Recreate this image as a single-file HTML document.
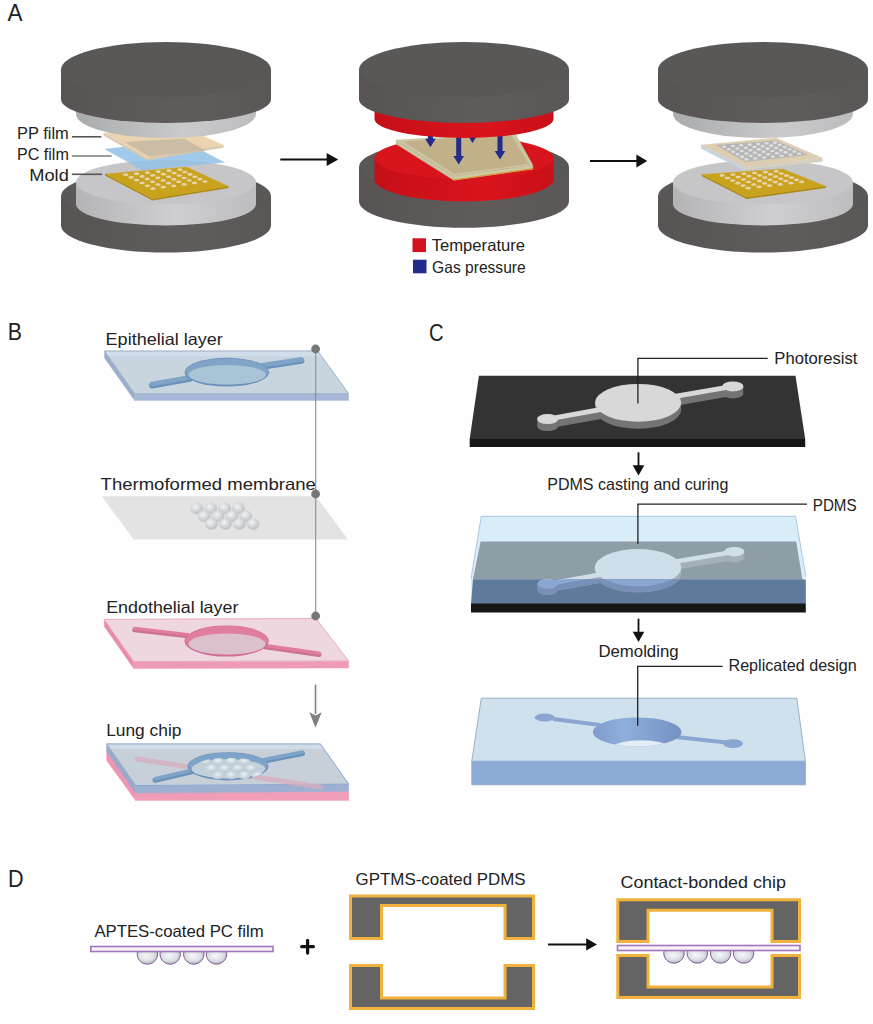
<!DOCTYPE html>
<html><head><meta charset="utf-8"><style>
html,body{margin:0;padding:0;background:#fff;}
svg{display:block;font-family:"Liberation Sans", sans-serif;}
</style></head><body>
<svg width="873" height="1024" viewBox="0 0 873 1024">
<rect width="873" height="1024" fill="#fefefe"/>
<defs>
<linearGradient id="gl" x1="0" x2="1" y1="0" y2="0">
 <stop offset="0" stop-color="#b4b4b6"/><stop offset="0.55" stop-color="#cfcfd1"/><stop offset="1" stop-color="#bdbdbf"/>
</linearGradient>
<linearGradient id="gd" x1="0" x2="1" y1="0" y2="0">
 <stop offset="0" stop-color="#575453"/><stop offset="0.6" stop-color="#605c5b"/><stop offset="1" stop-color="#5a5756"/>
</linearGradient>
<linearGradient id="gl2" x1="0" x2="1" y1="0" y2="0">
 <stop offset="0" stop-color="#a9abad"/><stop offset="0.6" stop-color="#cacacc"/><stop offset="1" stop-color="#bdbdbf"/>
</linearGradient>
<linearGradient id="gr" x1="0" x2="1" y1="0" y2="0">
 <stop offset="0" stop-color="#c40f17"/><stop offset="0.6" stop-color="#d9141c"/><stop offset="1" stop-color="#c81018"/>
</linearGradient>
<radialGradient id="dome" cx="0.45" cy="0.35" r="0.7">
 <stop offset="0" stop-color="#f6f8f8"/><stop offset="0.55" stop-color="#dcdfe6"/><stop offset="1" stop-color="#a9abbb"/>
</radialGradient>
<radialGradient id="bub" cx="0.4" cy="0.35" r="0.7">
 <stop offset="0" stop-color="#f2f4f5"/><stop offset="1" stop-color="#b7bcc0"/>
</radialGradient>
<radialGradient id="bub2" cx="0.45" cy="0.35" r="0.7">
 <stop offset="0" stop-color="#e9eff2"/><stop offset="1" stop-color="#b3c3cf"/>
</radialGradient>
<linearGradient id="chan" x1="0" x2="1" y1="0" y2="0">
 <stop offset="0" stop-color="#7f9dcc"/><stop offset="0.35" stop-color="#8eaedb"/><stop offset="1" stop-color="#7592c2"/>
</linearGradient>
</defs><text x="7.6" y="21.4" font-size="23.8" fill="#222" text-anchor="start" font-weight="normal" textLength="15.0" lengthAdjust="spacingAndGlyphs" >A</text><path d="M61,196 L61,225.5 A105,27 0 0 0 271,225.5 L271,196 Z" fill="url(#gd)"/><ellipse cx="166" cy="196" rx="105" ry="27" fill="#5a5856"/><path d="M76,182.2 L76,204 A90,21.5 0 0 0 256,204 L256,182.2 Z" fill="url(#gl)"/><ellipse cx="166" cy="182.2" rx="90" ry="22.2" fill="#c6c6c8"/><polygon points="105.40,173.90 152.60,198.70 152.60,200.20 105.40,175.40" fill="#a8860f" stroke="#a8860f" stroke-width="0.4" stroke-linejoin="round" /><polygon points="152.60,198.70 228.30,186.30 228.30,187.80 152.60,200.20" fill="#a8860f" stroke="#a8860f" stroke-width="0.4" stroke-linejoin="round" /><polygon points="105.40,173.90 186.60,167 228.30,186.30 152.60,198.70" fill="#c9a21e" stroke="#c9a21e" stroke-width="0.4" stroke-linejoin="round" /><ellipse cx="125.8" cy="174.7" rx="2.7" ry="1.35" fill="#e6d3ae"/><ellipse cx="131.2" cy="177.4" rx="2.7" ry="1.35" fill="#e6d3ae"/><ellipse cx="136.7" cy="180.2" rx="2.7" ry="1.35" fill="#e6d3ae"/><ellipse cx="142.1" cy="183.0" rx="2.7" ry="1.35" fill="#e6d3ae"/><ellipse cx="147.5" cy="185.8" rx="2.7" ry="1.35" fill="#e6d3ae"/><ellipse cx="153.0" cy="188.6" rx="2.7" ry="1.35" fill="#e6d3ae"/><ellipse cx="136.6" cy="173.7" rx="2.7" ry="1.35" fill="#e6d3ae"/><ellipse cx="142.0" cy="176.4" rx="2.7" ry="1.35" fill="#e6d3ae"/><ellipse cx="147.3" cy="179.1" rx="2.7" ry="1.35" fill="#e6d3ae"/><ellipse cx="152.7" cy="181.8" rx="2.7" ry="1.35" fill="#e6d3ae"/><ellipse cx="158.0" cy="184.5" rx="2.7" ry="1.35" fill="#e6d3ae"/><ellipse cx="163.4" cy="187.2" rx="2.7" ry="1.35" fill="#e6d3ae"/><ellipse cx="147.4" cy="172.7" rx="2.7" ry="1.35" fill="#e6d3ae"/><ellipse cx="152.7" cy="175.3" rx="2.7" ry="1.35" fill="#e6d3ae"/><ellipse cx="157.9" cy="177.9" rx="2.7" ry="1.35" fill="#e6d3ae"/><ellipse cx="163.2" cy="180.5" rx="2.7" ry="1.35" fill="#e6d3ae"/><ellipse cx="168.5" cy="183.2" rx="2.7" ry="1.35" fill="#e6d3ae"/><ellipse cx="173.7" cy="185.8" rx="2.7" ry="1.35" fill="#e6d3ae"/><ellipse cx="158.2" cy="171.7" rx="2.7" ry="1.35" fill="#e6d3ae"/><ellipse cx="163.4" cy="174.2" rx="2.7" ry="1.35" fill="#e6d3ae"/><ellipse cx="168.6" cy="176.8" rx="2.7" ry="1.35" fill="#e6d3ae"/><ellipse cx="173.8" cy="179.3" rx="2.7" ry="1.35" fill="#e6d3ae"/><ellipse cx="178.9" cy="181.8" rx="2.7" ry="1.35" fill="#e6d3ae"/><ellipse cx="184.1" cy="184.4" rx="2.7" ry="1.35" fill="#e6d3ae"/><ellipse cx="169.0" cy="170.7" rx="2.7" ry="1.35" fill="#e6d3ae"/><ellipse cx="174.1" cy="173.1" rx="2.7" ry="1.35" fill="#e6d3ae"/><ellipse cx="179.2" cy="175.6" rx="2.7" ry="1.35" fill="#e6d3ae"/><ellipse cx="184.3" cy="178.0" rx="2.7" ry="1.35" fill="#e6d3ae"/><ellipse cx="189.4" cy="180.5" rx="2.7" ry="1.35" fill="#e6d3ae"/><ellipse cx="194.5" cy="182.9" rx="2.7" ry="1.35" fill="#e6d3ae"/><ellipse cx="179.9" cy="169.7" rx="2.7" ry="1.35" fill="#e6d3ae"/><ellipse cx="184.9" cy="172.1" rx="2.7" ry="1.35" fill="#e6d3ae"/><ellipse cx="189.9" cy="174.4" rx="2.7" ry="1.35" fill="#e6d3ae"/><ellipse cx="194.9" cy="176.8" rx="2.7" ry="1.35" fill="#e6d3ae"/><ellipse cx="199.9" cy="179.1" rx="2.7" ry="1.35" fill="#e6d3ae"/><ellipse cx="204.9" cy="181.5" rx="2.7" ry="1.35" fill="#e6d3ae"/><polygon points="104.30,149 182,140 225,162.50 142,170" fill="#8fc0e6" fill-opacity="0.85"/><polygon points="103.80,133 147.10,157.70 147.10,160.20 103.80,135.50" fill="#d9c9b0" stroke="#d9c9b0" stroke-width="0.4" stroke-linejoin="round" /><polygon points="147.10,157.70 223.30,145 223.30,147.50 147.10,160.20" fill="#d9c9b0" stroke="#d9c9b0" stroke-width="0.4" stroke-linejoin="round" /><polygon points="103.80,133 180,126 223.30,145 147.10,157.70" fill="#ecd3b0" stroke="#ecd3b0" stroke-width="0.4" stroke-linejoin="round" /><polygon points="124.60,142 184,138.50 205.40,150.40 148.60,156.50" fill="#cbbda5" /><path d="M76,97 L76,114 A90,24 0 0 0 256,114 L256,97 Z" fill="url(#gl2)"/><path d="M61,69.5 L61,99.4 A105,23.5 0 0 0 271,99.4 L271,69.5 Z" fill="url(#gd)"/><ellipse cx="166" cy="69.5" rx="105" ry="27.5" fill="#5a5856"/><path d="M359,167 L359,201.3 A105,26.5 0 0 0 569,201.3 L569,167 Z" fill="url(#gd)"/><ellipse cx="464" cy="167" rx="105" ry="26.5" fill="#5a5856"/><path d="M374.5,158 L374.5,179.4 A89.5,22 0 0 0 553.5,179.4 L553.5,158 Z" fill="url(#gr)"/><ellipse cx="464" cy="158" rx="89.5" ry="21" fill="#d8151d"/><polygon points="396,140 453.80,176.30 453.80,180.30 396,144" fill="#c4c6a4" stroke="#c4c6a4" stroke-width="0.4" stroke-linejoin="round" /><polygon points="453.80,176.30 532.80,165 532.80,169 453.80,180.30" fill="#cfcaa6" stroke="#cfcaa6" stroke-width="0.4" stroke-linejoin="round" /><polygon points="396,140 515,133 532.80,165 453.80,176.30" fill="#c9c6a2" stroke="#c9c6a2" stroke-width="0.4" stroke-linejoin="round" /><polygon points="453.80,179.30 532.80,168 532.80,169.20 453.80,180.50" fill="#dc9a3c" /><polygon points="403.57,141.53 511.21,134.89 528.67,163.84 454.15,174.04" fill="#c2b088" /><rect x="427.9" y="136" width="5" height="4.300000000000011" fill="#232c88"/><polygon points="425.10,138.80 430.40,147.30 435.70,138.80" fill="#232c88" /><rect x="456.2" y="136" width="5" height="21.5" fill="#232c88"/><polygon points="453.40,156 458.70,164.50 464,156" fill="#232c88" /><rect x="470.0" y="136" width="5" height="0" fill="#232c88"/><polygon points="467.20,134.50 472.50,143 477.80,134.50" fill="#232c88" /><rect x="497.5" y="136" width="5" height="16.400000000000006" fill="#232c88"/><polygon points="494.70,150.90 500,159.40 505.30,150.90" fill="#232c88" /><path d="M374.5,97 L374.5,119 A89.5,19 0 0 0 553.5,119 L553.5,97 Z" fill="url(#gr)"/><path d="M359,69.5 L359,99.4 A105,23.5 0 0 0 569,99.4 L569,69.5 Z" fill="url(#gd)"/><ellipse cx="464" cy="69.5" rx="105" ry="27.5" fill="#5a5856"/><path d="M658,196 L658,225.5 A105,27 0 0 0 868,225.5 L868,196 Z" fill="url(#gd)"/><ellipse cx="763" cy="196" rx="105" ry="27" fill="#5a5856"/><path d="M673,182.2 L673,204 A90,21.5 0 0 0 853,204 L853,182.2 Z" fill="url(#gl)"/><ellipse cx="763" cy="182.2" rx="90" ry="22.2" fill="#c6c6c8"/><polygon points="702,174.60 746.70,197.30 746.70,198.80 702,176.10" fill="#a8860f" stroke="#a8860f" stroke-width="0.4" stroke-linejoin="round" /><polygon points="746.70,197.30 825.70,186.20 825.70,187.70 746.70,198.80" fill="#a8860f" stroke="#a8860f" stroke-width="0.4" stroke-linejoin="round" /><polygon points="702,174.60 782.80,169 825.70,186.20 746.70,197.30" fill="#c9a21e" stroke="#c9a21e" stroke-width="0.4" stroke-linejoin="round" /><ellipse cx="722.2" cy="175.4" rx="2.7" ry="1.35" fill="#e6d3ae"/><ellipse cx="727.4" cy="178.0" rx="2.7" ry="1.35" fill="#e6d3ae"/><ellipse cx="732.6" cy="180.5" rx="2.7" ry="1.35" fill="#e6d3ae"/><ellipse cx="737.8" cy="183.1" rx="2.7" ry="1.35" fill="#e6d3ae"/><ellipse cx="743.1" cy="185.6" rx="2.7" ry="1.35" fill="#e6d3ae"/><ellipse cx="748.3" cy="188.2" rx="2.7" ry="1.35" fill="#e6d3ae"/><ellipse cx="733.0" cy="174.6" rx="2.7" ry="1.35" fill="#e6d3ae"/><ellipse cx="738.2" cy="177.1" rx="2.7" ry="1.35" fill="#e6d3ae"/><ellipse cx="743.4" cy="179.5" rx="2.7" ry="1.35" fill="#e6d3ae"/><ellipse cx="748.6" cy="182.0" rx="2.7" ry="1.35" fill="#e6d3ae"/><ellipse cx="753.8" cy="184.5" rx="2.7" ry="1.35" fill="#e6d3ae"/><ellipse cx="759.0" cy="186.9" rx="2.7" ry="1.35" fill="#e6d3ae"/><ellipse cx="743.8" cy="173.8" rx="2.7" ry="1.35" fill="#e6d3ae"/><ellipse cx="748.9" cy="176.2" rx="2.7" ry="1.35" fill="#e6d3ae"/><ellipse cx="754.1" cy="178.5" rx="2.7" ry="1.35" fill="#e6d3ae"/><ellipse cx="759.3" cy="180.9" rx="2.7" ry="1.35" fill="#e6d3ae"/><ellipse cx="764.5" cy="183.3" rx="2.7" ry="1.35" fill="#e6d3ae"/><ellipse cx="769.6" cy="185.7" rx="2.7" ry="1.35" fill="#e6d3ae"/><ellipse cx="754.6" cy="173.0" rx="2.7" ry="1.35" fill="#e6d3ae"/><ellipse cx="759.7" cy="175.3" rx="2.7" ry="1.35" fill="#e6d3ae"/><ellipse cx="764.9" cy="177.5" rx="2.7" ry="1.35" fill="#e6d3ae"/><ellipse cx="770.0" cy="179.8" rx="2.7" ry="1.35" fill="#e6d3ae"/><ellipse cx="775.2" cy="182.1" rx="2.7" ry="1.35" fill="#e6d3ae"/><ellipse cx="780.3" cy="184.4" rx="2.7" ry="1.35" fill="#e6d3ae"/><ellipse cx="765.4" cy="172.2" rx="2.7" ry="1.35" fill="#e6d3ae"/><ellipse cx="770.5" cy="174.4" rx="2.7" ry="1.35" fill="#e6d3ae"/><ellipse cx="775.6" cy="176.6" rx="2.7" ry="1.35" fill="#e6d3ae"/><ellipse cx="780.7" cy="178.8" rx="2.7" ry="1.35" fill="#e6d3ae"/><ellipse cx="785.8" cy="181.0" rx="2.7" ry="1.35" fill="#e6d3ae"/><ellipse cx="791.0" cy="183.2" rx="2.7" ry="1.35" fill="#e6d3ae"/><ellipse cx="776.2" cy="171.3" rx="2.7" ry="1.35" fill="#e6d3ae"/><ellipse cx="781.3" cy="173.5" rx="2.7" ry="1.35" fill="#e6d3ae"/><ellipse cx="786.4" cy="175.6" rx="2.7" ry="1.35" fill="#e6d3ae"/><ellipse cx="791.4" cy="177.7" rx="2.7" ry="1.35" fill="#e6d3ae"/><ellipse cx="796.5" cy="179.8" rx="2.7" ry="1.35" fill="#e6d3ae"/><ellipse cx="801.6" cy="181.9" rx="2.7" ry="1.35" fill="#e6d3ae"/><polygon points="701.20,145 743.30,166.40 743.30,169.90 701.20,148.50" fill="#c3d3df" stroke="#c3d3df" stroke-width="0.4" stroke-linejoin="round" /><polygon points="743.30,166.40 822.30,158.10 822.30,161.60 743.30,169.90" fill="#d6d0c2" stroke="#d6d0c2" stroke-width="0.4" stroke-linejoin="round" /><polygon points="701.20,145 775.90,138 822.30,158.10 743.30,166.40" fill="#ddceb2" stroke="#ddceb2" stroke-width="0.4" stroke-linejoin="round" /><polygon points="716,145 776,140.50 808,155 745,162" fill="#b6b5b3" /><ellipse cx="724.3" cy="146.7" rx="2.2" ry="1.3" fill="#dcdfe3"/><ellipse cx="728.8" cy="149.2" rx="2.2" ry="1.3" fill="#dcdfe3"/><ellipse cx="733.2" cy="151.8" rx="2.2" ry="1.3" fill="#dcdfe3"/><ellipse cx="737.6" cy="154.3" rx="2.2" ry="1.3" fill="#dcdfe3"/><ellipse cx="742.1" cy="156.9" rx="2.2" ry="1.3" fill="#dcdfe3"/><ellipse cx="746.5" cy="159.4" rx="2.2" ry="1.3" fill="#dcdfe3"/><ellipse cx="732.8" cy="146.0" rx="2.2" ry="1.3" fill="#dcdfe3"/><ellipse cx="737.3" cy="148.5" rx="2.2" ry="1.3" fill="#dcdfe3"/><ellipse cx="741.8" cy="151.0" rx="2.2" ry="1.3" fill="#dcdfe3"/><ellipse cx="746.3" cy="153.5" rx="2.2" ry="1.3" fill="#dcdfe3"/><ellipse cx="750.8" cy="156.0" rx="2.2" ry="1.3" fill="#dcdfe3"/><ellipse cx="755.3" cy="158.5" rx="2.2" ry="1.3" fill="#dcdfe3"/><ellipse cx="741.2" cy="145.3" rx="2.2" ry="1.3" fill="#dcdfe3"/><ellipse cx="745.8" cy="147.8" rx="2.2" ry="1.3" fill="#dcdfe3"/><ellipse cx="750.4" cy="150.2" rx="2.2" ry="1.3" fill="#dcdfe3"/><ellipse cx="754.9" cy="152.7" rx="2.2" ry="1.3" fill="#dcdfe3"/><ellipse cx="759.5" cy="155.1" rx="2.2" ry="1.3" fill="#dcdfe3"/><ellipse cx="764.1" cy="157.5" rx="2.2" ry="1.3" fill="#dcdfe3"/><ellipse cx="749.7" cy="144.6" rx="2.2" ry="1.3" fill="#dcdfe3"/><ellipse cx="754.3" cy="147.0" rx="2.2" ry="1.3" fill="#dcdfe3"/><ellipse cx="758.9" cy="149.4" rx="2.2" ry="1.3" fill="#dcdfe3"/><ellipse cx="763.6" cy="151.8" rx="2.2" ry="1.3" fill="#dcdfe3"/><ellipse cx="768.2" cy="154.2" rx="2.2" ry="1.3" fill="#dcdfe3"/><ellipse cx="772.8" cy="156.6" rx="2.2" ry="1.3" fill="#dcdfe3"/><ellipse cx="758.1" cy="144.0" rx="2.2" ry="1.3" fill="#dcdfe3"/><ellipse cx="762.8" cy="146.3" rx="2.2" ry="1.3" fill="#dcdfe3"/><ellipse cx="767.5" cy="148.6" rx="2.2" ry="1.3" fill="#dcdfe3"/><ellipse cx="772.2" cy="151.0" rx="2.2" ry="1.3" fill="#dcdfe3"/><ellipse cx="776.9" cy="153.3" rx="2.2" ry="1.3" fill="#dcdfe3"/><ellipse cx="781.6" cy="155.7" rx="2.2" ry="1.3" fill="#dcdfe3"/><ellipse cx="766.6" cy="143.3" rx="2.2" ry="1.3" fill="#dcdfe3"/><ellipse cx="771.3" cy="145.6" rx="2.2" ry="1.3" fill="#dcdfe3"/><ellipse cx="776.1" cy="147.9" rx="2.2" ry="1.3" fill="#dcdfe3"/><ellipse cx="780.9" cy="150.2" rx="2.2" ry="1.3" fill="#dcdfe3"/><ellipse cx="785.6" cy="152.4" rx="2.2" ry="1.3" fill="#dcdfe3"/><ellipse cx="790.4" cy="154.7" rx="2.2" ry="1.3" fill="#dcdfe3"/><ellipse cx="775.0" cy="142.6" rx="2.2" ry="1.3" fill="#dcdfe3"/><ellipse cx="779.8" cy="144.9" rx="2.2" ry="1.3" fill="#dcdfe3"/><ellipse cx="784.7" cy="147.1" rx="2.2" ry="1.3" fill="#dcdfe3"/><ellipse cx="789.5" cy="149.3" rx="2.2" ry="1.3" fill="#dcdfe3"/><ellipse cx="794.3" cy="151.6" rx="2.2" ry="1.3" fill="#dcdfe3"/><ellipse cx="799.1" cy="153.8" rx="2.2" ry="1.3" fill="#dcdfe3"/><path d="M673,97 L673,114 A90,24 0 0 0 853,114 L853,97 Z" fill="url(#gl2)"/><path d="M658,69.5 L658,99.4 A105,23.5 0 0 0 868,99.4 L868,69.5 Z" fill="url(#gd)"/><ellipse cx="763" cy="69.5" rx="105" ry="27.5" fill="#5a5856"/><line x1="280.3" y1="159.4" x2="327.7" y2="159.4" stroke="#111" stroke-width="2"/><polygon points="326.70,152.90 338.20,159.40 326.70,165.90" fill="#111" /><line x1="590" y1="160.9" x2="637.4" y2="160.9" stroke="#111" stroke-width="2"/><polygon points="636.40,154.40 647.30,160.90 636.40,167.40" fill="#111" /><text x="68.8" y="138.8" font-size="15.8" fill="#222" text-anchor="end" font-weight="normal" textLength="51.8" lengthAdjust="spacingAndGlyphs" >PP film</text><text x="68.8" y="160.1" font-size="15.8" fill="#222" text-anchor="end" font-weight="normal" textLength="51.8" lengthAdjust="spacingAndGlyphs" >PC film</text><text x="68.8" y="181.4" font-size="15.8" fill="#222" text-anchor="end" font-weight="normal" textLength="39.5" lengthAdjust="spacingAndGlyphs" >Mold</text><line x1="71.9" y1="136.8" x2="101.4" y2="136.8" stroke="#555" stroke-width="1.6"/><line x1="71.9" y1="156" x2="111.7" y2="156" stroke="#7a7a7a" stroke-width="1.4"/><line x1="71.9" y1="174.3" x2="102" y2="174.3" stroke="#555" stroke-width="1.6"/><rect x="412.5" y="238.3" width="13.5" height="13.8" fill="#d4111f"/><rect x="413" y="259.7" width="13.5" height="13.6" fill="#232c8a"/><text x="431.7" y="250.8" font-size="16.5" fill="#222" text-anchor="start" font-weight="normal" textLength="93.4" lengthAdjust="spacingAndGlyphs" >Temperature</text><text x="432.1" y="272.5" font-size="16.5" fill="#222" text-anchor="start" font-weight="normal" textLength="93.6" lengthAdjust="spacingAndGlyphs" >Gas pressure</text><text x="7.8" y="340.4" font-size="23.8" fill="#222" text-anchor="start" font-weight="normal" textLength="14.2" lengthAdjust="spacingAndGlyphs" >B</text><text x="105.6" y="345.4" font-size="16.5" fill="#222" text-anchor="start" font-weight="normal" textLength="117.2" lengthAdjust="spacingAndGlyphs" >Epithelial layer</text><polygon points="104.50,351 134.60,393.60 134.60,400.60 104.50,358" fill="#9cadcb" stroke="#9cadcb" stroke-width="0.4" stroke-linejoin="round" /><polygon points="134.60,393.60 348.60,393.60 348.60,400.60 134.60,400.60" fill="#a5b6d6" stroke="#a5b6d6" stroke-width="0.4" stroke-linejoin="round" /><polygon points="104.50,351 317.70,351 348.60,393.60 134.60,393.60" fill="#c9d5de" stroke="#c9d5de" stroke-width="0.4" stroke-linejoin="round" /><polygon points="104.80,351.40 317.50,351.40 321,356.20 108.30,356.20" fill="#cfdeea" /><polygon points="104.5,351 317.7,351 348.6,393.6 134.6,393.6" fill="none" stroke="#98aec6" stroke-width="0.9"/><line x1="152" y1="385.5" x2="190" y2="378.8" stroke="#6991ba" stroke-width="6" stroke-linecap="round"/><line x1="152" y1="384.0" x2="190" y2="377.3" stroke="#7fa4c7" stroke-width="4.5" stroke-linecap="round"/><line x1="262" y1="366.7" x2="301.5" y2="360.8" stroke="#6991ba" stroke-width="6" stroke-linecap="round"/><line x1="262" y1="365.2" x2="301.5" y2="359.3" stroke="#7fa4c7" stroke-width="4.5" stroke-linecap="round"/><ellipse cx="226.8" cy="372.2" rx="42.3" ry="14.4" fill="#6991ba"/><ellipse cx="226.8" cy="371.59999999999997" rx="41.3" ry="13.200000000000001" fill="#7fa4c7"/><ellipse cx="227.20000000000002" cy="374.8" rx="38.699999999999996" ry="9.8" fill="#a9c4d6"/><text x="100.6" y="490" font-size="16.5" fill="#222" text-anchor="start" font-weight="normal" textLength="215.2" lengthAdjust="spacingAndGlyphs" >Thermoformed membrane</text><polygon points="101.80,496.30 316.10,496.30 348,539.60 133.70,539.60" fill="#e3e3e3" /><ellipse cx="196.8" cy="508.4" rx="6.4" ry="5.8" fill="url(#bub)"/><ellipse cx="210.7" cy="508.4" rx="6.4" ry="5.8" fill="url(#bub)"/><ellipse cx="224.6" cy="508.4" rx="6.4" ry="5.8" fill="url(#bub)"/><ellipse cx="238.5" cy="508.4" rx="6.4" ry="5.8" fill="url(#bub)"/><ellipse cx="204.1" cy="516.2" rx="6.4" ry="5.8" fill="url(#bub)"/><ellipse cx="218.0" cy="516.2" rx="6.4" ry="5.8" fill="url(#bub)"/><ellipse cx="231.9" cy="516.2" rx="6.4" ry="5.8" fill="url(#bub)"/><ellipse cx="245.8" cy="516.2" rx="6.4" ry="5.8" fill="url(#bub)"/><ellipse cx="211.4" cy="524.0" rx="6.4" ry="5.8" fill="url(#bub)"/><ellipse cx="225.3" cy="524.0" rx="6.4" ry="5.8" fill="url(#bub)"/><ellipse cx="239.2" cy="524.0" rx="6.4" ry="5.8" fill="url(#bub)"/><ellipse cx="253.1" cy="524.0" rx="6.4" ry="5.8" fill="url(#bub)"/><text x="106.2" y="613.2" font-size="16.5" fill="#222" text-anchor="start" font-weight="normal" textLength="132.2" lengthAdjust="spacingAndGlyphs" >Endothelial layer</text><polygon points="104.30,619.40 133.70,661.50 133.70,668.50 104.30,626.40" fill="#e98cab" stroke="#e98cab" stroke-width="0.4" stroke-linejoin="round" /><polygon points="133.70,661.50 348.60,661 348.60,668 133.70,668.50" fill="#ef9ab6" stroke="#ef9ab6" stroke-width="0.4" stroke-linejoin="round" /><polygon points="104.30,619.40 316,618.50 348.60,661 133.70,661.50" fill="#efd7df" stroke="#efd7df" stroke-width="0.4" stroke-linejoin="round" /><polygon points="104.3,619.4 316,618.5 348.6,661 133.7,661.5" fill="none" stroke="#e7a6bc" stroke-width="0.9"/><line x1="134.5" y1="629.9000000000001" x2="188" y2="636.0" stroke="#cc7193" stroke-width="4.6" stroke-linecap="round"/><line x1="134.5" y1="628.4000000000001" x2="188" y2="634.5" stroke="#e17d9f" stroke-width="3.0999999999999996" stroke-linecap="round"/><line x1="265" y1="646.9000000000001" x2="319.2" y2="654.6" stroke="#cc7193" stroke-width="4.6" stroke-linecap="round"/><line x1="265" y1="645.4000000000001" x2="319.2" y2="653.1" stroke="#e17d9f" stroke-width="3.0999999999999996" stroke-linecap="round"/><ellipse cx="226.6" cy="641" rx="42.2" ry="15.6" fill="#cc7193"/><ellipse cx="226.6" cy="640.4" rx="41.2" ry="14.4" fill="#e17d9f"/><ellipse cx="227.0" cy="644.0" rx="38.6" ry="10.6" fill="#ddc0ce"/><text x="106.2" y="736.3" font-size="16.5" fill="#222" text-anchor="start" font-weight="normal" textLength="75.2" lengthAdjust="spacingAndGlyphs" >Lung chip</text><polygon points="106.60,751.50 135.70,791.60 135.70,800.60 106.60,760.50" fill="#ee95b1" stroke="#ee95b1" stroke-width="0.4" stroke-linejoin="round" /><polygon points="135.70,791.60 348.70,791.60 348.70,800.60 135.70,800.60" fill="#f19db7" stroke="#f19db7" stroke-width="0.4" stroke-linejoin="round" /><polygon points="106.60,751.50 320.40,751.50 348.70,791.60 135.70,791.60" fill="#f0a0b8" stroke="#f0a0b8" stroke-width="0.4" stroke-linejoin="round" /><polygon points="106.60,743.90 135.70,785.60 135.70,793.10 106.60,751.40" fill="#98a9c9" stroke="#98a9c9" stroke-width="0.4" stroke-linejoin="round" /><polygon points="135.70,785.60 348.70,784.10 348.70,791.60 135.70,793.10" fill="#9eb0d2" stroke="#9eb0d2" stroke-width="0.4" stroke-linejoin="round" /><polygon points="106.60,743.90 320.40,743.90 348.70,784.10 135.70,785.60" fill="#c7cfd8" stroke="#c7cfd8" stroke-width="0.4" stroke-linejoin="round" /><polygon points="107,744.30 320.20,744.30 323.60,749 110.40,749" fill="#cfdbe6" /><polygon points="106.6,743.9 320.4,743.9 348.7,784.1 135.7,785.6" fill="none" stroke="#89aad3" stroke-width="1"/><line x1="137" y1="759" x2="320" y2="787" stroke="#d7aebe" stroke-width="5" stroke-opacity="0.8" stroke-linecap="round"/><line x1="155" y1="780.2" x2="192" y2="771.7" stroke="#6a93bb" stroke-width="5" stroke-linecap="round"/><line x1="155" y1="778.7" x2="192" y2="770.2" stroke="#7da4c8" stroke-width="3.5" stroke-linecap="round"/><line x1="262" y1="761.5" x2="302.5" y2="753.5" stroke="#6a93bb" stroke-width="5" stroke-linecap="round"/><line x1="262" y1="760.0" x2="302.5" y2="752.0" stroke="#7da4c8" stroke-width="3.5" stroke-linecap="round"/><ellipse cx="228" cy="766.3" rx="40.5" ry="14.1" fill="#6a93bb"/><ellipse cx="228" cy="765.6999999999999" rx="39.5" ry="12.9" fill="#7da4c8"/><ellipse cx="228.4" cy="768.8" rx="36.9" ry="9.6" fill="#c2d0da"/><clipPath id="lcc"><ellipse cx="229" cy="768.8" rx="37" ry="11.1"/></clipPath><g clip-path="url(#lcc)"><ellipse cx="205.0" cy="761.5" rx="5.8" ry="3.9" fill="url(#bub2)"/><ellipse cx="218.2" cy="761.5" rx="5.8" ry="3.9" fill="url(#bub2)"/><ellipse cx="231.4" cy="761.5" rx="5.8" ry="3.9" fill="url(#bub2)"/><ellipse cx="244.6" cy="761.5" rx="5.8" ry="3.9" fill="url(#bub2)"/><ellipse cx="211.5" cy="768.5" rx="5.8" ry="3.9" fill="url(#bub2)"/><ellipse cx="224.7" cy="768.5" rx="5.8" ry="3.9" fill="url(#bub2)"/><ellipse cx="237.9" cy="768.5" rx="5.8" ry="3.9" fill="url(#bub2)"/><ellipse cx="251.1" cy="768.5" rx="5.8" ry="3.9" fill="url(#bub2)"/><ellipse cx="218.0" cy="775.5" rx="5.8" ry="3.9" fill="url(#bub2)"/><ellipse cx="231.2" cy="775.5" rx="5.8" ry="3.9" fill="url(#bub2)"/><ellipse cx="244.4" cy="775.5" rx="5.8" ry="3.9" fill="url(#bub2)"/><ellipse cx="257.6" cy="775.5" rx="5.8" ry="3.9" fill="url(#bub2)"/></g><line x1="315.7" y1="349" x2="315.7" y2="616" stroke="#8a8d90" stroke-width="1.1"/><circle cx="315.6" cy="349" r="4.4" fill="#767676"/><circle cx="315.6" cy="494" r="4.4" fill="#767676"/><circle cx="315.6" cy="616" r="4.4" fill="#767676"/><line x1="315.5" y1="684.7" x2="315.5" y2="714" stroke="#808080" stroke-width="1.6"/><polygon points="309.30,712.30 315.50,715.40 321.70,712.30 315.50,727.70" fill="#808080" /><text x="429" y="340.6" font-size="23.8" fill="#222" text-anchor="start" font-weight="normal" textLength="14.6" lengthAdjust="spacingAndGlyphs" >C</text><polygon points="469.70,438.90 805.20,438.90 805.20,446.90 469.70,446.90" fill="#161616" /><polygon points="478.90,375.80 795.50,375.80 805.20,438.90 469.70,438.90" fill="#333333" /><line x1="547.6" y1="420.85" x2="638.1" y2="404.55" stroke="#747474" stroke-width="5"/><ellipse cx="547.6" cy="420.85" rx="10.5" ry="5" fill="#747474"/><line x1="732.9" y1="388.15" x2="638.1" y2="404.55" stroke="#747474" stroke-width="5"/><ellipse cx="732.9" cy="388.15" rx="10.5" ry="5" fill="#747474"/><ellipse cx="638.1" cy="404.55" rx="43.1" ry="18.9" fill="#747474"/><line x1="547.6" y1="422.6" x2="638.1" y2="406.3" stroke="#747474" stroke-width="5"/><ellipse cx="547.6" cy="422.6" rx="10.5" ry="5" fill="#747474"/><line x1="732.9" y1="389.9" x2="638.1" y2="406.3" stroke="#747474" stroke-width="5"/><ellipse cx="732.9" cy="389.9" rx="10.5" ry="5" fill="#747474"/><ellipse cx="638.1" cy="406.3" rx="43.1" ry="18.9" fill="#747474"/><line x1="547.6" y1="424.35" x2="638.1" y2="408.05" stroke="#747474" stroke-width="5"/><ellipse cx="547.6" cy="424.35" rx="10.5" ry="5" fill="#747474"/><line x1="732.9" y1="391.65" x2="638.1" y2="408.05" stroke="#747474" stroke-width="5"/><ellipse cx="732.9" cy="391.65" rx="10.5" ry="5" fill="#747474"/><ellipse cx="638.1" cy="408.05" rx="43.1" ry="18.9" fill="#747474"/><line x1="547.6" y1="426.1" x2="638.1" y2="409.8" stroke="#747474" stroke-width="5"/><ellipse cx="547.6" cy="426.1" rx="10.5" ry="5" fill="#747474"/><line x1="732.9" y1="393.4" x2="638.1" y2="409.8" stroke="#747474" stroke-width="5"/><ellipse cx="732.9" cy="393.4" rx="10.5" ry="5" fill="#747474"/><ellipse cx="638.1" cy="409.8" rx="43.1" ry="18.9" fill="#747474"/><line x1="547.6" y1="419.1" x2="638.1" y2="402.8" stroke="#d8d8d8" stroke-width="5"/><ellipse cx="547.6" cy="419.1" rx="10.5" ry="5" fill="#d8d8d8"/><line x1="732.9" y1="386.4" x2="638.1" y2="402.8" stroke="#d8d8d8" stroke-width="5"/><ellipse cx="732.9" cy="386.4" rx="10.5" ry="5" fill="#d8d8d8"/><ellipse cx="638.1" cy="402.8" rx="43.1" ry="18.9" fill="#d8d8d8"/><polyline points="637.9,403.5 637.9,358.3 767.7,358.3" fill="none" stroke="#222" stroke-width="1.3"/><text x="774.3" y="363.7" font-size="16.5" fill="#222" text-anchor="start" font-weight="normal" textLength="83.2" lengthAdjust="spacingAndGlyphs" >Photoresist</text><line x1="638.5" y1="452.3" x2="638.5" y2="466.2" stroke="#111" stroke-width="1.8"/><polygon points="632.70,465.20 638.50,475.50 644.30,465.20" fill="#111" /><text x="547.1999999999999" y="489.6" font-size="16.5" fill="#222" text-anchor="start" font-weight="normal" textLength="181.2" lengthAdjust="spacingAndGlyphs" >PDMS casting and curing</text><polygon points="481.30,516.30 795.50,516.30 805.80,576.50 805.80,604 471,604 471,579.20" fill="#d9edf8" /><polygon points="480.60,541.40 796.20,541.40 802.40,579.20 473,579.20" fill="#8f9da6" /><polygon points="473,579.20 802.40,579.20 805.80,580 805.80,604 471,604" fill="#5f7b9c" /><polygon points="471,603.50 805.80,603.50 805.80,612.50 471,612.50" fill="#161616" /><polyline points="471,579 481.3,516.3 795.5,516.3 805.8,576.5" fill="none" stroke="#a8c8e8" stroke-width="1"/><line x1="547.6" y1="585.5" x2="638" y2="569.2" stroke="#a3b0ba" stroke-width="4.5"/><ellipse cx="547.6" cy="585.5" rx="10" ry="4.8" fill="#a3b0ba"/><line x1="734.4" y1="553.2" x2="638" y2="569.2" stroke="#a3b0ba" stroke-width="4.5"/><ellipse cx="734.4" cy="553.2" rx="10" ry="4.8" fill="#a3b0ba"/><ellipse cx="638" cy="569.2" rx="43.3" ry="18.6" fill="#a3b0ba"/><line x1="547.6" y1="587.0" x2="638" y2="570.7" stroke="#a3b0ba" stroke-width="4.5"/><ellipse cx="547.6" cy="587.0" rx="10" ry="4.8" fill="#a3b0ba"/><line x1="734.4" y1="554.7" x2="638" y2="570.7" stroke="#a3b0ba" stroke-width="4.5"/><ellipse cx="734.4" cy="554.7" rx="10" ry="4.8" fill="#a3b0ba"/><ellipse cx="638" cy="570.7" rx="43.3" ry="18.6" fill="#a3b0ba"/><line x1="547.6" y1="588.5" x2="638" y2="572.2" stroke="#a3b0ba" stroke-width="4.5"/><ellipse cx="547.6" cy="588.5" rx="10" ry="4.8" fill="#a3b0ba"/><line x1="734.4" y1="556.2" x2="638" y2="572.2" stroke="#a3b0ba" stroke-width="4.5"/><ellipse cx="734.4" cy="556.2" rx="10" ry="4.8" fill="#a3b0ba"/><ellipse cx="638" cy="572.2" rx="43.3" ry="18.6" fill="#a3b0ba"/><line x1="547.6" y1="590.0" x2="638" y2="573.7" stroke="#a3b0ba" stroke-width="4.5"/><ellipse cx="547.6" cy="590.0" rx="10" ry="4.8" fill="#a3b0ba"/><line x1="734.4" y1="557.7" x2="638" y2="573.7" stroke="#a3b0ba" stroke-width="4.5"/><ellipse cx="734.4" cy="557.7" rx="10" ry="4.8" fill="#a3b0ba"/><ellipse cx="638" cy="573.7" rx="43.3" ry="18.6" fill="#a3b0ba"/><line x1="547.6" y1="584" x2="638" y2="567.7" stroke="#cfdee8" stroke-width="4.5"/><ellipse cx="547.6" cy="584" rx="10" ry="4.8" fill="#cfdee8"/><line x1="734.4" y1="551.7" x2="638" y2="567.7" stroke="#cfdee8" stroke-width="4.5"/><ellipse cx="734.4" cy="551.7" rx="10" ry="4.8" fill="#cfdee8"/><ellipse cx="638" cy="567.7" rx="43.3" ry="18.6" fill="#cfdee8"/><clipPath id="pdl"><rect x="460" y="579.2" width="360" height="24.3"/></clipPath><g clip-path="url(#pdl)"><line x1="547.6" y1="585.5" x2="638" y2="569.2" stroke="#7890b8" stroke-width="4.5"/><ellipse cx="547.6" cy="585.5" rx="10" ry="4.8" fill="#7890b8"/><line x1="734.4" y1="553.2" x2="638" y2="569.2" stroke="#7890b8" stroke-width="4.5"/><ellipse cx="734.4" cy="553.2" rx="10" ry="4.8" fill="#7890b8"/><ellipse cx="638" cy="569.2" rx="43.3" ry="18.6" fill="#7890b8"/><line x1="547.6" y1="587.0" x2="638" y2="570.7" stroke="#7890b8" stroke-width="4.5"/><ellipse cx="547.6" cy="587.0" rx="10" ry="4.8" fill="#7890b8"/><line x1="734.4" y1="554.7" x2="638" y2="570.7" stroke="#7890b8" stroke-width="4.5"/><ellipse cx="734.4" cy="554.7" rx="10" ry="4.8" fill="#7890b8"/><ellipse cx="638" cy="570.7" rx="43.3" ry="18.6" fill="#7890b8"/><line x1="547.6" y1="588.5" x2="638" y2="572.2" stroke="#7890b8" stroke-width="4.5"/><ellipse cx="547.6" cy="588.5" rx="10" ry="4.8" fill="#7890b8"/><line x1="734.4" y1="556.2" x2="638" y2="572.2" stroke="#7890b8" stroke-width="4.5"/><ellipse cx="734.4" cy="556.2" rx="10" ry="4.8" fill="#7890b8"/><ellipse cx="638" cy="572.2" rx="43.3" ry="18.6" fill="#7890b8"/><line x1="547.6" y1="590.0" x2="638" y2="573.7" stroke="#7890b8" stroke-width="4.5"/><ellipse cx="547.6" cy="590.0" rx="10" ry="4.8" fill="#7890b8"/><line x1="734.4" y1="557.7" x2="638" y2="573.7" stroke="#7890b8" stroke-width="4.5"/><ellipse cx="734.4" cy="557.7" rx="10" ry="4.8" fill="#7890b8"/><ellipse cx="638" cy="573.7" rx="43.3" ry="18.6" fill="#7890b8"/><line x1="547.6" y1="584" x2="638" y2="567.7" stroke="#8aa6d2" stroke-width="4.5"/><ellipse cx="547.6" cy="584" rx="10" ry="4.8" fill="#8aa6d2"/><line x1="734.4" y1="551.7" x2="638" y2="567.7" stroke="#8aa6d2" stroke-width="4.5"/><ellipse cx="734.4" cy="551.7" rx="10" ry="4.8" fill="#8aa6d2"/><ellipse cx="638" cy="567.7" rx="43.3" ry="18.6" fill="#8aa6d2"/></g><polyline points="637.9,544 637.9,504.1 807,504.1" fill="none" stroke="#222" stroke-width="1.3"/><text x="812.8" y="510.6" font-size="16.5" fill="#222" text-anchor="start" font-weight="normal" textLength="43.8" lengthAdjust="spacingAndGlyphs" >PDMS</text><line x1="638.5" y1="618.7" x2="638.5" y2="632.8" stroke="#111" stroke-width="1.8"/><polygon points="632.70,631.80 638.50,641.90 644.30,631.80" fill="#111" /><text x="598.4" y="656.9" font-size="16.5" fill="#222" text-anchor="start" font-weight="normal" textLength="80.2" lengthAdjust="spacingAndGlyphs" >Demolding</text><polygon points="471.80,761 805.40,761 805.40,784.80 471.80,784.80" fill="#8cabd7" /><polygon points="481.30,698.20 796.80,698.20 805.40,761 471.80,761" fill="#cfe1ec" /><polygon points="481.3,698.2 796.8,698.2 805.4,761 805.4,784.8 471.8,784.8 471.8,761" fill="none" stroke="#93a9c4" stroke-width="0.9"/><line x1="471.8" y1="761" x2="805.4" y2="761" stroke="#9db7d8" stroke-width="0.8"/><line x1="553" y1="718.9" x2="600" y2="725" stroke="#8aa6d0" stroke-width="4"/><line x1="676" y1="737" x2="729" y2="742.8" stroke="#8aa6d0" stroke-width="4"/><ellipse cx="544.7" cy="717.5" rx="10" ry="4" fill="#8aa6d0"/><ellipse cx="733" cy="743.6" rx="10" ry="4.3" fill="#8aa6d0"/><ellipse cx="637.2" cy="732" rx="44.4" ry="14.5" fill="url(#chan)"/><clipPath id="cc"><ellipse cx="637.2" cy="732" rx="44.4" ry="14.5"/></clipPath><ellipse cx="641" cy="747" rx="27" ry="6.8" fill="#e3edf3" clip-path="url(#cc)"/><polyline points="637.7,725.7 637.7,666.4 722.6,666.4" fill="none" stroke="#222" stroke-width="1.3"/><text x="728.5" y="671.1" font-size="16.5" fill="#222" text-anchor="start" font-weight="normal" textLength="128.2" lengthAdjust="spacingAndGlyphs" >Replicated design</text><text x="8" y="887" font-size="23.8" fill="#222" text-anchor="start" font-weight="normal" textLength="15.6" lengthAdjust="spacingAndGlyphs" >D</text><text x="94.39999999999999" y="937.3" font-size="16.5" fill="#222" text-anchor="start" font-weight="normal" textLength="169.2" lengthAdjust="spacingAndGlyphs" >APTES-coated PC film</text><path d="M137.5,951.5 A10.2,10.2 0 1 0 157.3,951.5 Z" fill="url(#dome)" stroke="#7f5a90" stroke-width="1"/><path d="M160.29999999999998,951.5 A10.2,10.2 0 1 0 180.1,951.5 Z" fill="url(#dome)" stroke="#7f5a90" stroke-width="1"/><path d="M183.9,951.5 A10.2,10.2 0 1 0 203.70000000000002,951.5 Z" fill="url(#dome)" stroke="#7f5a90" stroke-width="1"/><path d="M206.6,951.5 A10.2,10.2 0 1 0 226.4,951.5 Z" fill="url(#dome)" stroke="#7f5a90" stroke-width="1"/><rect x="90.8" y="946.5" width="182.2" height="5" fill="#f7f2f9" stroke="#a473b8" stroke-width="1.6"/><path d="M301.7,946.7 H313.4 M307.6,940.3 V953.1" stroke="#111" stroke-width="3.2" stroke-linecap="round"/><text x="355.6" y="884.8" font-size="16.5" fill="#222" text-anchor="start" font-weight="normal" textLength="170.0" lengthAdjust="spacingAndGlyphs" >GPTMS-coated PDMS</text><polygon points="350.50,896 533.50,896 533.50,938.50 505,938.50 505,905.50 381.50,905.50 381.50,938.50 350.50,938.50" fill="#646464" stroke="#efb23c" stroke-width="3" stroke-linejoin="miter" /><polygon points="350.50,1008.50 533.50,1008.50 533.50,965.50 505,965.50 505,998 381.50,998 381.50,965.50 350.50,965.50" fill="#646464" stroke="#efb23c" stroke-width="3" stroke-linejoin="miter" /><line x1="548" y1="944.4" x2="587.2" y2="944.4" stroke="#111" stroke-width="2"/><polygon points="586.20,938.20 597,944.40 586.20,950.60" fill="#111" /><text x="620.5" y="888" font-size="16.5" fill="#222" text-anchor="start" font-weight="normal" textLength="165.4" lengthAdjust="spacingAndGlyphs" >Contact-bonded chip</text><polygon points="617.80,899.80 799.50,899.80 799.50,941.50 772,941.50 772,910.30 648,910.30 648,941.50 617.80,941.50" fill="#646464" stroke="#efb23c" stroke-width="3" stroke-linejoin="miter" /><polygon points="617.80,997.50 799.50,997.50 799.50,955.50 772,955.50 772,987 648,987 648,955.50 617.80,955.50" fill="#646464" stroke="#efb23c" stroke-width="3" stroke-linejoin="miter" /><path d="M664.1,950.5 A10.2,10.2 0 1 0 683.9,950.5 Z" fill="url(#dome)" stroke="#7f5a90" stroke-width="1"/><path d="M687.4,950.5 A10.2,10.2 0 1 0 707.1999999999999,950.5 Z" fill="url(#dome)" stroke="#7f5a90" stroke-width="1"/><path d="M710.7,950.5 A10.2,10.2 0 1 0 730.5,950.5 Z" fill="url(#dome)" stroke="#7f5a90" stroke-width="1"/><path d="M733.7,950.5 A10.2,10.2 0 1 0 753.5,950.5 Z" fill="url(#dome)" stroke="#7f5a90" stroke-width="1"/><rect x="617.5" y="945.5" width="182.5" height="5" fill="#f7f2f9" stroke="#a473b8" stroke-width="1.6"/>
</svg>
</body></html>
